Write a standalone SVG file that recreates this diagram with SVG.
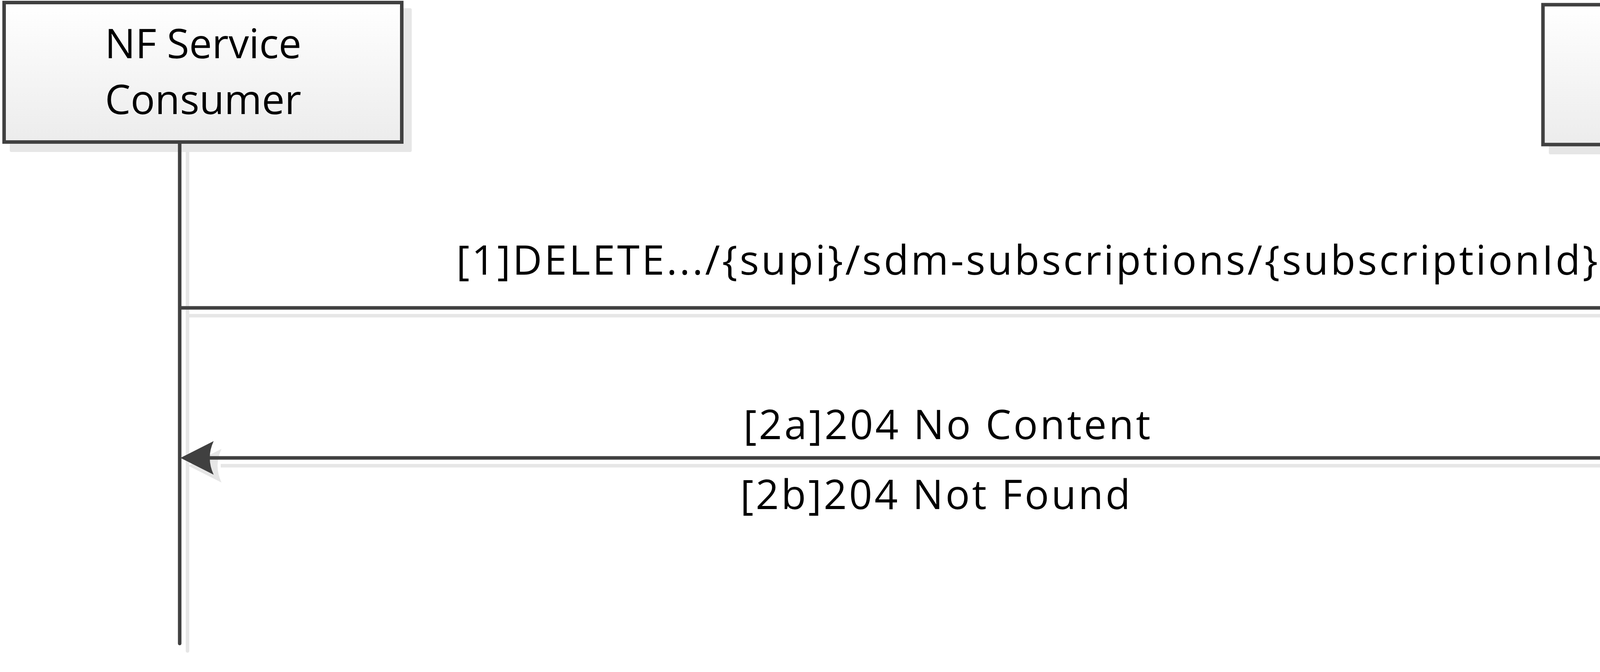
<svg xmlns="http://www.w3.org/2000/svg" width="5000" height="1720" viewBox="0 0 5000 1720">
  <defs>
    <linearGradient id="boxfill" x1="0" y1="0" x2="0" y2="1">
      <stop offset="0" stop-color="#ffffff"/>
      <stop offset="1" stop-color="#ececec"/>
    </linearGradient>
    <style>
      .box { fill: url(#boxfill); stroke: #404040; stroke-width: 9; }
      .shadowbox { fill: #e6e6e6; stroke: none; }
      .life { stroke: #404040; stroke-width: 9; stroke-linecap: round; fill: none; }
      .lifesh { stroke: #e6e6e6; stroke-width: 9; stroke-linecap: round; fill: none; }
      .msg { stroke: #404040; stroke-width: 9; fill: none; }
      .msgsh { stroke: #e6e6e6; stroke-width: 9; fill: none; }
      .head { fill: #404040; stroke: none; }
      .headsh { fill: #e6e6e6; stroke: none; }
      .ntext { font-family: "Open Sans", "Noto Sans", sans-serif; font-size: 104px; fill: #000000; text-anchor: middle; }
      .ltext { font-family: "Open Sans", "Noto Sans", sans-serif; font-size: 104px; fill: #000000; letter-spacing: 5.6px; }
      .fig { font-family: "Liberation Sans", Arial, sans-serif; font-size: 98px; fill: #000000; }
    </style>
  </defs>
  <rect x="0" y="0" width="5000" height="1720" fill="#ffffff"/>

  <g id="shadows">
    <rect class="shadowbox" x="25" y="21" width="1029" height="368" rx="4"/>
    <rect class="shadowbox" x="3965" y="27" width="1027" height="368" rx="4"/>
    <line class="lifesh" x1="480" y1="389" x2="480" y2="1666"/>
    <line class="lifesh" x1="4475" y1="395" x2="4475" y2="1673"/>
    <line class="msgsh" x1="482" y1="808" x2="4400" y2="808"/>
    <path class="headsh" d="M4475,808 L4390,765 Q4410,808 4390,851 Z"/>
    <line class="msgsh" x1="4475" y1="1192" x2="565" y2="1192"/>
    <path class="headsh" d="M482,1192 L567,1149 Q547,1192 567,1235 Z"/>
  </g>

  <g id="nf-service-consumer">
    <line class="life" x1="460" y1="368" x2="460" y2="1647"/>
    <rect class="box" x="10.5" y="6.5" width="1018" height="357"/>
    <text class="ntext" x="520" y="149">NF Service</text>
    <text class="ntext" x="520" y="292">Consumer</text>
  </g>

  <g id="udm">
    <line class="life" x1="4455" y1="375" x2="4455" y2="1653"/>
    <rect class="box" x="3950" y="12" width="1017" height="358"/>
    <text class="ntext" x="4458" y="227">UDM</text>
  </g>

  <g id="connectors">
    <g id="msg1">
      <line class="msg" x1="460" y1="788" x2="4382" y2="788"/>
      <path class="head" d="M4455,788 L4370,745 Q4390,788 4370,831 Z"/>
      <text class="ltext" x="1168" y="703">[1]DELETE.../{supi}/sdm-subscriptions/{subscriptionId}</text>
    </g>
    <g id="msg2">
      <line class="msg" x1="4455" y1="1172" x2="535" y2="1172"/>
      <path class="head" d="M462,1172 L547,1129 Q527,1172 547,1215 Z"/>
      <text class="ltext" x="1903" y="1124">[2a]204 No Content</text>
      <text class="ltext" x="1895" y="1303">[2b]204 Not Found</text>
    </g>
  </g>

  <text class="fig" transform="translate(4898,1672) rotate(-90)">447376</text>
</svg>
